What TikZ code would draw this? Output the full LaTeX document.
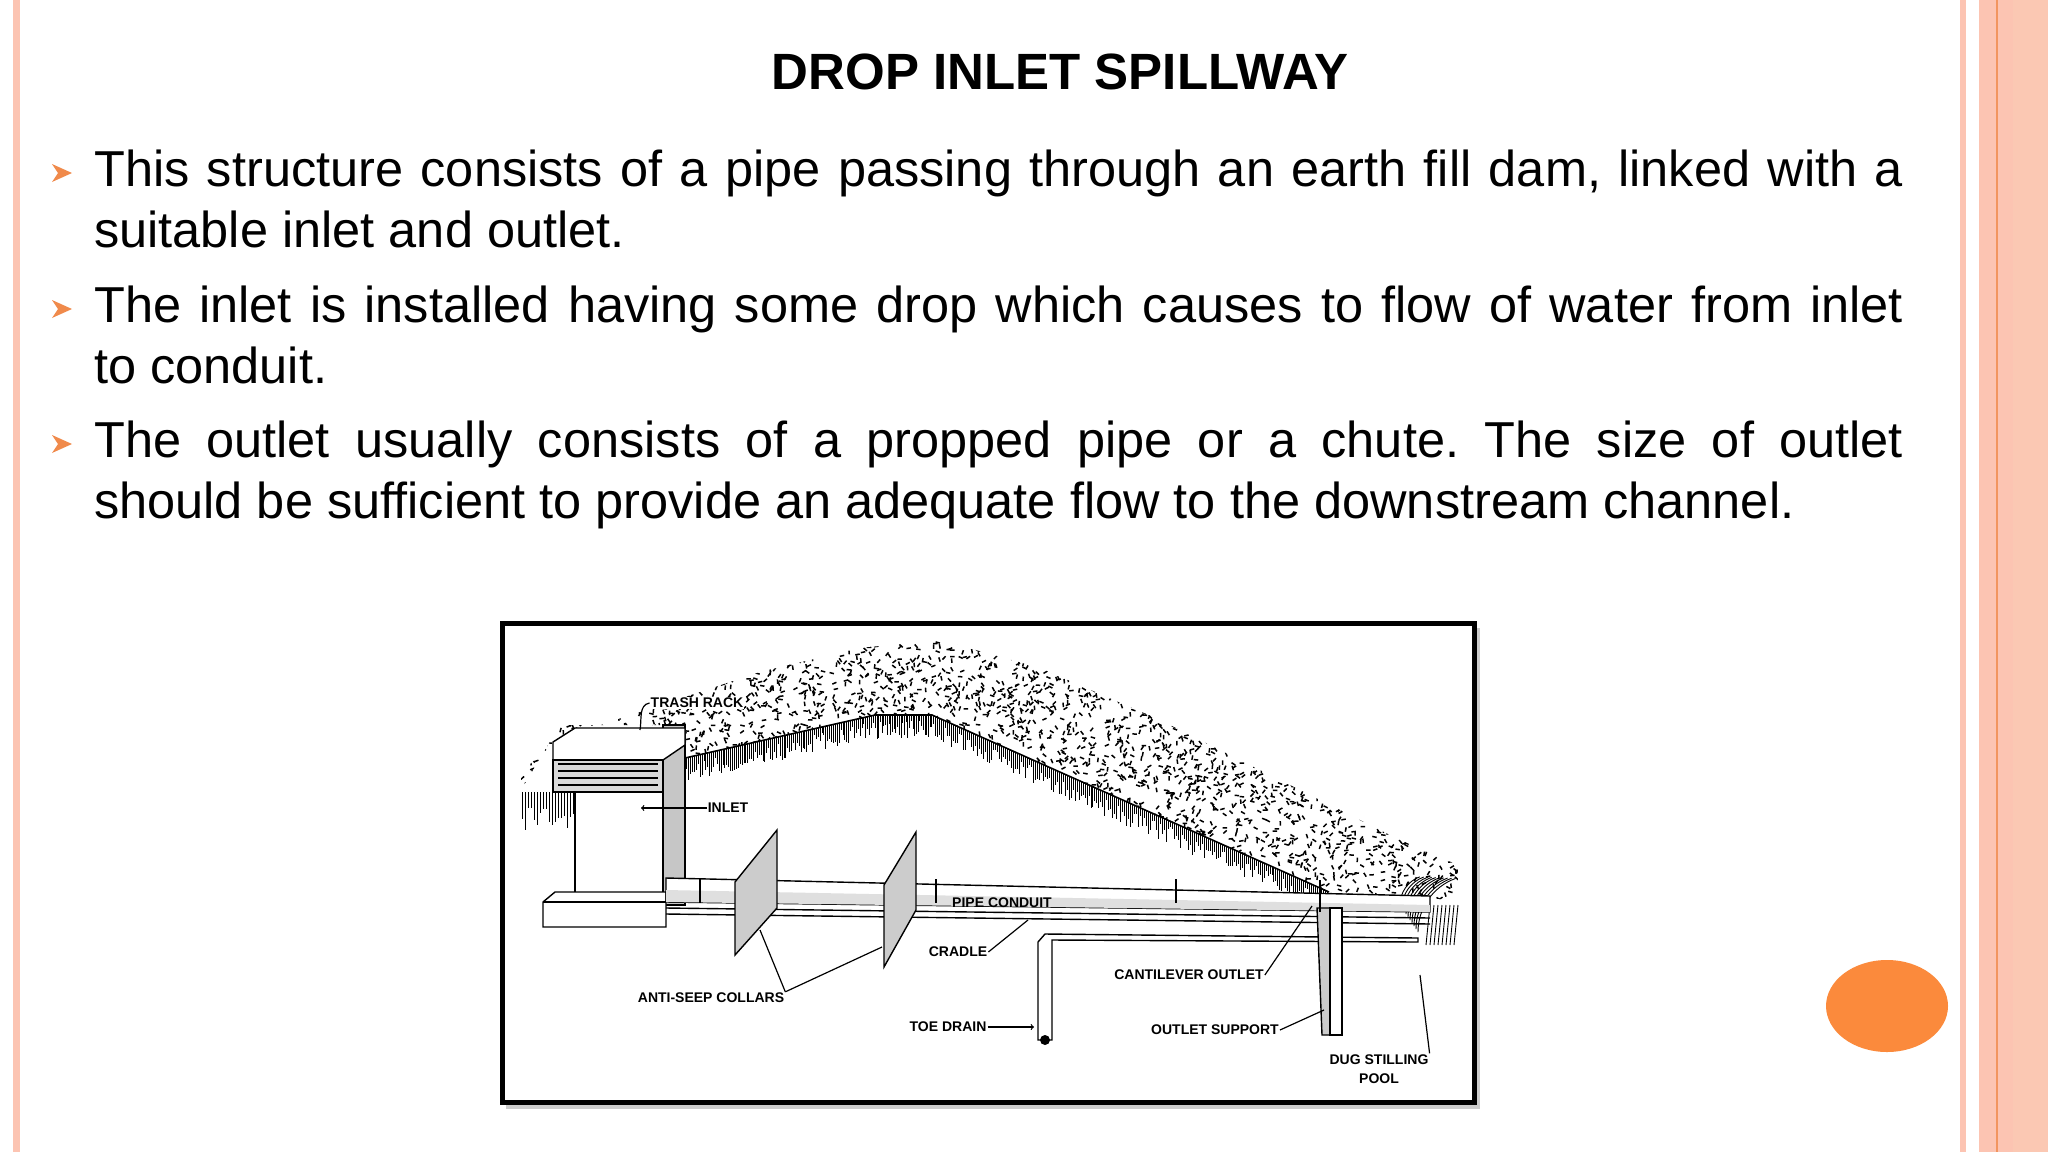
\documentclass[tikz,border=0pt]{standalone}
\usepackage{fontspec}
\setmainfont{Liberation Sans}
\begin{document}
\frenchspacing
\begin{tikzpicture}[x=1pt,y=-1pt,
  bul/.style={fill=bulorange,draw=none},
  para/.style={anchor=north west,inner sep=0pt,text width=1809pt,align=justify,font=\fontsize{50.5}{61}\selectfont},
  lbl/.style={inner sep=1pt,font=\fontsize{14}{16}\selectfont\bfseries},
  lead/.style={line width=1.2pt},
  ink/.style={line width=1.4pt,draw=black},
]
\definecolor{bulorange}{HTML}{F08A4B}
\definecolor{pinkA}{HTML}{FCC4B2}
\definecolor{pinkB}{HTML}{FBC8B3}
\definecolor{orngline}{HTML}{F2955F}
\definecolor{blob}{HTML}{FB8A3C}
\useasboundingbox (0,0) rectangle (2048,1152);
\fill[white] (0,0) rectangle (2048,1152);
% side stripes
\fill[pinkA] (13,0) rectangle (20,1152);
\fill[pinkA] (1960,0) rectangle (1966,1152);
\fill[pinkA] (1979,0) rectangle (2048,1152);
\fill[pinkB] (2013,0) rectangle (2048,1152);
\fill[orngline] (1996,0) rectangle (1998,1152);
% title
\node[font=\fontsize{51}{58}\selectfont\bfseries] (title) at (1060,72) {DROP INLET SPILLWAY};
% bullets
\foreach \yy in {187,323,458}{
  \fill[bul] (52,\yy-23) -- (72,\yy-14) -- (52,\yy-5) -- (58,\yy-14) -- cycle;
}
\node[para] (p1) at (94,150) {This structure consists of a pipe passing through an earth fill dam, linked with a\linebreak suitable inlet and outlet.};
\node[para] (p2) at (94,286) {The inlet is installed having some drop which causes to flow of water from inlet\linebreak to conduit.};
\node[para] (p3) at (94,421) {The outlet usually consists of a propped pipe or a chute. The size of outlet\linebreak should be sufficient to provide an adequate flow to the downstream channel.};
% frame
\fill[gray!40] (506,628) rectangle (1480,1109);
\draw[line width=5pt,fill=white] (502,623) rectangle (1474,1102);
% dam stipple
\begin{scope}
\clip (521,772) -- (560,738) -- (640,712) -- (760,672) -- (860,648) -- (940,640) -- (1040,668) -- (1160,720) -- (1300,790) -- (1400,840) -- (1458,865) -- (1458,900) -- (1330,893) -- (932,715) -- (875,715) -- (685,758) -- (685,725) -- (560,725) -- (521,790) -- cycle;
\pgfmathsetseed{7}
\foreach \i in {1,...,5500}{
  \pgfmathsetmacro{\px}{521+rnd*940}
  \pgfmathsetmacro{\py}{640+rnd*265}
  \pgfmathsetmacro{\ang}{rnd*180}
  \draw[line width=1.5pt] (\px,\py) -- ++(\ang:4.5);
}
\end{scope}
% dark fringe under inner slope
\pgfmathsetseed{3}
\foreach \t in {0,0.003,...,1}{
  \pgfmathsetmacro{\len}{6+rnd*18}
  \ifdim\t pt<0.3pt
    \pgfmathsetmacro{\xa}{685+\t/0.3*190}\pgfmathsetmacro{\ya}{758-\t/0.3*43}
  \else\ifdim\t pt<0.4pt
    \pgfmathsetmacro{\xa}{875+(\t-0.3)/0.1*57}\pgfmathsetmacro{\ya}{715}
  \else
    \pgfmathsetmacro{\xa}{932+(\t-0.4)/0.6*397}\pgfmathsetmacro{\ya}{715+(\t-0.4)/0.6*177}
  \fi\fi
  \draw[line width=1pt] (\xa,\ya) -- ++(0,\len);
}
\draw[line width=1.6pt] (685,758) -- (875,715) -- (932,715) -- (1329,892);
% ground hatch left
\pgfmathsetseed{5}
\foreach \xx in {522,525,...,575}{
  \pgfmathsetmacro{\len}{15+rnd*25}
  \draw[line width=0.9pt] (\xx,792) -- ++(0,\len);
}
% stilling pool hatch
\foreach \k in {0,...,9}{
  \draw[line width=0.9pt] (1400+\k*2,905+\k*3) arc[start angle=180,end angle=250,radius=30+\k*3];
}
\foreach \xx in {1430,1434,...,1458}{
  \draw[line width=0.9pt] (\xx,905) -- ++(-4,40);
}
% trash rack and riser
\draw[ink,fill=white] (575,792) rectangle (663,903);
\fill[gray!45] (663,725) rectangle (685,905);
\draw[ink] (663,725) rectangle (685,905);
\draw[ink,fill=white] (553,742) -- (575,728) -- (685,728) -- (685,745) -- (663,760) -- (553,760) -- cycle;
\draw[ink,fill=gray!30] (553,760) rectangle (663,792);
\foreach \yy in {764,771,778,785}{\draw[line width=2pt] (558,\yy) -- (658,\yy);}
\draw[ink,fill=white] (543,902) -- (555,892) -- (666,892) -- (666,927) -- (543,927) -- cycle;
\draw[ink] (543,902) -- (666,902);
% pipe and cradle
\draw[ink,fill=white] (666,878) -- (1430,896) -- (1430,912) -- (666,902) -- cycle;
\fill[gray!25] (666,890) -- (1430,905) -- (1430,912) -- (666,902) -- cycle;
\draw[ink] (666,908) -- (1430,918);
\draw[ink] (666,914) -- (1430,924);
\foreach \xx in {700,740,936,1176}{\draw[ink] (\xx,879) -- (\xx,903);}
% collars
\draw[ink,fill=gray!40] (735,882) -- (777,830) -- (777,908) -- (735,955) -- cycle;
\draw[ink,fill=gray!40] (884,885) -- (916,832) -- (916,910) -- (884,967) -- cycle;
% toe drain
\draw[ink,fill=white] (1045,934) -- (1418,938) -- (1418,942) -- (1052,940) -- (1052,1040) -- (1038,1040) -- (1038,942) -- cycle;
\fill (1045,1040) circle (5);
% outlet support
\draw[ink,fill=gray!40] (1317,908) -- (1330,908) -- (1330,1035) -- (1322,1035) -- cycle;
\draw[ink,fill=white] (1330,908) rectangle (1342,1035);
\draw[ink] (1320,880) -- (1320,912);
% labels
\node[lbl,fill=white] (trash) at (697,703) {TRASH RACK};
\coordinate (trashT) at (640,730);
\draw[lead] (trash.west) to[out=190,in=80] (trashT);
\node[lbl] (inlet) at (728,808) {INLET};
\coordinate (inletT) at (641,808);
\draw[lead,->] (inlet.west) -- (inletT);
\node[lbl] (pipe) at (1002,903) {PIPE CONDUIT};
\node[lbl] (cradle) at (958,952) {CRADLE};
\coordinate (cradleT) at (1028,920);
\draw[lead] (cradle.east) -- (cradleT);
\node[lbl] (anti) at (711,998) {ANTI-SEEP COLLARS};
\coordinate (antiA) at (760,930);
\coordinate (antiB) at (882,947);
\draw[lead] (anti.north east) -- (antiA);
\draw[lead] (anti.north east) -- (antiB);
\node[lbl] (cant) at (1189,975) {CANTILEVER OUTLET};
\coordinate (cantT) at (1312,906);
\draw[lead] (cant.east) -- (cantT);
\node[lbl] (toe) at (948,1027) {TOE DRAIN};
\coordinate (toeT) at (1034,1027);
\draw[lead,->] (toe.east) -- (toeT);
\node[lbl] (outsup) at (1215,1030) {OUTLET SUPPORT};
\coordinate (outsupT) at (1324,1010);
\draw[lead] (outsup.east) -- (outsupT);
\node[lbl,align=center,font=\fontsize{14}{19}\selectfont\bfseries] (dug) at (1379,1069) {DUG STILLING\\POOL};
\coordinate (dugT) at (1420,975);
\draw[lead] (dug.north east) -- (dugT);
% orange blob
\fill[blob] (1887,1006) ellipse (61 and 46);
\end{tikzpicture}
\end{document}
